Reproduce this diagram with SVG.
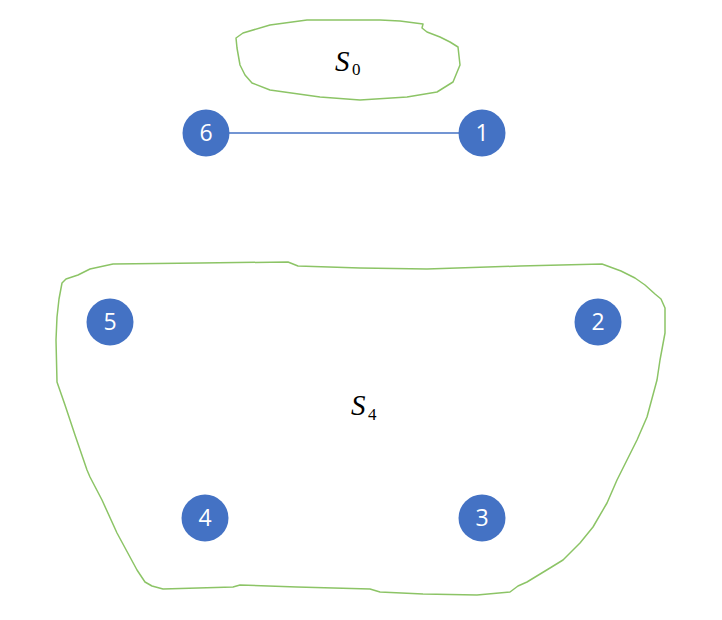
<svg xmlns="http://www.w3.org/2000/svg" width="722" height="620" viewBox="0 0 722 620">
<style>
.blob{fill:none;stroke:#8cc466;stroke-width:1.5;stroke-linejoin:round}
.node circle{fill:#4472c4}
.node text{fill:#ffffff;font-family:"Open Sans","Liberation Sans",sans-serif;font-size:23px;text-anchor:middle}
.math{font-family:"Liberation Serif",serif;fill:#000000}
.edge{stroke:#4472c4;stroke-width:1.3}
</style>
<rect width="722" height="620" fill="#ffffff"/>
<g id="set-S0">
<path class="blob" d="M236,38 L237,48 L240,65 L245,75 L252,83 L270,90 L320,97 L360,100 L407,97 L437,92 L453,82 L460,65 L458,47 L450,42 L440,37 L427,32 L422,28 L423,24 L400,21 L380,20 L307,20 L270,25 L243,33 Z"/>
<text class="math" x="335" y="71" font-size="29" font-style="italic">S</text>
<text class="math" x="352" y="75" font-size="17">0</text>
</g>
<g id="set-S4">
<path class="blob" d="M62,283 L66,279 L78,275 L90,269 L113,264 L200,263 L288,262 L298,266 L360,268 L427,269 L520,266 L602,264 L621,271 L635,278 L645,285 L655,294 L661,299 L665,308 L665,333 L660,360 L657,380 L647,417 L637,440 L627,460 L617,480 L607,503 L593,527 L580,543 L563,560 L550,568 L527,582 L518,586 L510,592 L477,595 L423,594 L380,592 L370,589 L297,587 L240,585 L233,587 L163,589 L152,586 L145,582 L137,570 L117,533 L102,500 L90,477 L87,470 L75,435 L65,405 L57,382 L56,340 L57,317 L59,299 Z"/>
<text class="math" x="351" y="415" font-size="29" font-style="italic">S</text>
<text class="math" x="368" y="420" font-size="17">4</text>
</g>
<g id="connectors">
<line class="edge" x1="229" y1="133" x2="459" y2="133"/>
</g>
<g id="node-6" class="node"><circle cx="206" cy="133" r="23.5"/><text x="206" y="141">6</text></g>
<g id="node-1" class="node"><circle cx="482" cy="133" r="23.5"/><text x="482" y="141">1</text></g>
<g id="node-5" class="node"><circle cx="110" cy="322" r="23.5"/><text x="110" y="330">5</text></g>
<g id="node-2" class="node"><circle cx="598" cy="322" r="23.5"/><text x="598" y="330">2</text></g>
<g id="node-4" class="node"><circle cx="205" cy="518" r="23.5"/><text x="205" y="526">4</text></g>
<g id="node-3" class="node"><circle cx="482" cy="518" r="23.5"/><text x="482" y="526">3</text></g>
</svg>
